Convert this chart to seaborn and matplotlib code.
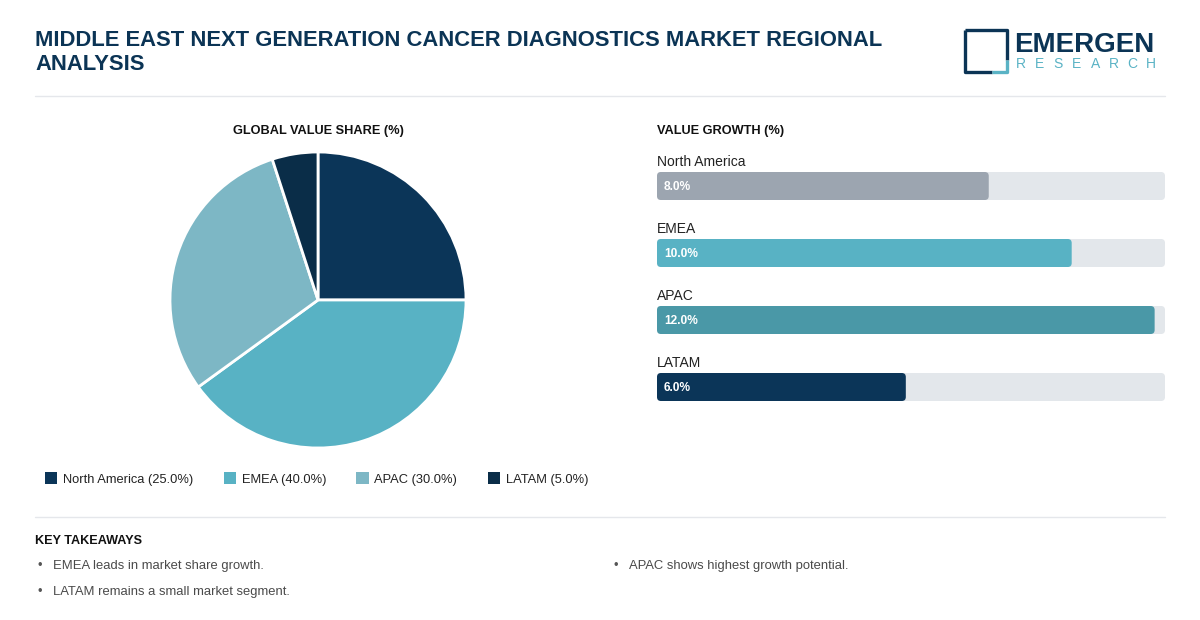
import matplotlib
matplotlib.use("Agg")
import matplotlib.pyplot as plt
from matplotlib.patches import FancyBboxPatch, Rectangle, Patch
import seaborn as sns
import pandas as pd

# ---------------- data ----------------
title_lines = ["MIDDLE EAST NEXT GENERATION CANCER DIAGNOSTICS MARKET REGIONAL", "ANALYSIS"]
regions = ["North America", "EMEA", "APAC", "LATAM"]
share_values = [25.0, 40.0, 30.0, 5.0]
growth_values = [8.0, 10.0, 12.0, 6.0]
pie_title = "GLOBAL VALUE SHARE (%)"
bar_title = "VALUE GROWTH (%)"
takeaways_title = "KEY TAKEAWAYS"
takeaways_left = ["EMEA leads in market share growth.", "LATAM remains a small market segment."]
takeaways_right = ["APAC shows highest growth potential."]

pie_colors = ["#0b3558", "#58b2c4", "#7db7c5", "#0a2d48"]
bar_colors = ["#9ca5b0", "#58b2c4", "#4a98a7", "#0b3558"]
track_color = "#e3e7eb"
navy = "#0b3455"

sns.set_theme(style="white")
plt.rcParams["font.family"] = ["Liberation Sans", "DejaVu Sans"]

W, H = 1200, 620
fig = plt.figure(figsize=(12, 6.2), dpi=100)
fig.patch.set_facecolor("white")


def fx(x):
    return x / W


def fy(y):
    return 1 - y / H


# background overlay axes in pixel coordinates
bg = fig.add_axes([0, 0, 1, 1], zorder=0)
bg.set_xlim(0, W)
bg.set_ylim(H, 0)
bg.axis("off")

# title
bg.text(35, 45.5, title_lines[0], fontsize=15.8, weight="bold", color=navy, va="baseline")
bg.text(35, 70.5, title_lines[1], fontsize=15.8, weight="bold", color=navy, va="baseline")

# logo
bg.plot([964.5, 1006.5, 1006.5], [29.5, 29.5, 60], color=navy, lw=2.4, solid_capstyle="butt")
bg.plot([964.5, 964.5, 992], [29.5, 71.5, 71.5], color=navy, lw=2.4, solid_capstyle="butt")
bg.plot([992, 1006.5, 1006.5], [71.5, 71.5, 60], color="#5ab3c5", lw=2.4, solid_capstyle="butt")
bg.text(1014, 51.5, "EMERGEN", fontsize=20, weight="bold", color=navy, va="baseline")
for k, ch in enumerate("RESEARCH"):
    bg.text(1021 + k * 18.6, 68, ch, fontsize=10, color="#5ab3c5", ha="center", va="baseline")

# separators
bg.plot([35, 1165], [95.5, 95.5], color="#e5e7eb", lw=1)
bg.plot([35, 1165], [516.5, 516.5], color="#e5e7eb", lw=1)

# sub titles
bg.text(318, 134, pie_title, fontsize=9.2, weight="bold", color="#111111", ha="center", va="baseline")
bg.text(657, 134, bar_title, fontsize=9.2, weight="bold", color="#111111", ha="left", va="baseline")

# key takeaways
bg.text(35, 544.5, takeaways_title, fontsize=9.1, weight="bold", color="#111111", va="baseline")
for k, t in enumerate(takeaways_left):
    yb = 569.5 + k * 25
    bg.text(37, yb, "\u2022", fontsize=9.3, color="#555555", va="baseline")
    bg.text(53, yb, t, fontsize=9.4, color="#4a4a4a", va="baseline")
for k, t in enumerate(takeaways_right):
    yb = 569.5 + k * 25
    bg.text(613, yb, "\u2022", fontsize=9.3, color="#555555", va="baseline")
    bg.text(629, yb, t, fontsize=9.4, color="#4a4a4a", va="baseline")

# ---------------- pie ----------------
ax_pie = fig.add_axes([fx(170), fy(448), 296 / W, 296 / H], zorder=2)
ax_pie.pie(share_values, colors=pie_colors, startangle=90, counterclock=False,
           wedgeprops=dict(edgecolor="white", linewidth=2))
ax_pie.set_xlim(-1.0, 1.0)
ax_pie.set_ylim(-1.0, 1.0)
ax_pie.set_aspect("equal")
ax_pie.axis("off")

handles = [Patch(facecolor=c, edgecolor="none") for c in pie_colors]
labels = [f"{r} ({v:.1f}%)" for r, v in zip(regions, share_values)]
fig.legend(handles, labels, loc="center left", bbox_to_anchor=(fx(45), fy(479)),
           ncol=4, frameon=False, fontsize=9.3, handlelength=0.95, handleheight=0.95,
           handletextpad=0.45, columnspacing=2.34, borderpad=0, borderaxespad=0,
           labelcolor="#222222")

# ---------------- bars ----------------
xmax = 12.25
row_px = 67.0
ax_bar = fig.add_axes([fx(657), fy(420.5), 508 / W, (4 * row_px) / H], zorder=2)
bar_h = 28 / row_px
ax_bar.barh(range(len(regions)), [xmax] * len(regions), height=bar_h, color=track_color, zorder=1)
df = pd.DataFrame({"region": regions, "growth": growth_values})
sns.barplot(data=df, x="growth", y="region", hue="region", palette=bar_colors, orient="h",
            width=bar_h, saturation=1, legend=False, ax=ax_bar, zorder=2)
ax_bar.set_xlim(0, xmax)
ax_bar.set_ylim(len(regions) - 0.5, -0.5)
ax_bar.axis("off")

xu_per_px = xmax / 508
yu_per_px = 1 / row_px
asp = yu_per_px / xu_per_px
r = 4 * xu_per_px
for p in list(ax_bar.patches):
    x0, y0 = p.get_x(), p.get_y()
    w, h = p.get_width(), p.get_height()
    fb = FancyBboxPatch((x0, y0), w, h, boxstyle=f"round,pad=0,rounding_size={r}",
                        mutation_aspect=asp, facecolor=p.get_facecolor(), edgecolor="none",
                        zorder=p.get_zorder())
    p.remove()
    ax_bar.add_patch(fb)

for i, (reg, v) in enumerate(zip(regions, growth_values)):
    ax_bar.text(0, i - 0.305, reg, fontsize=10, color="#222222", va="baseline", ha="left")
    ax_bar.text(7 * xu_per_px, i + 0.065, f"{v:.1f}%", fontsize=8.6, weight="bold",
                color="white", va="baseline", ha="left", zorder=5)

fig.savefig("out.png", dpi=100, facecolor="white")
